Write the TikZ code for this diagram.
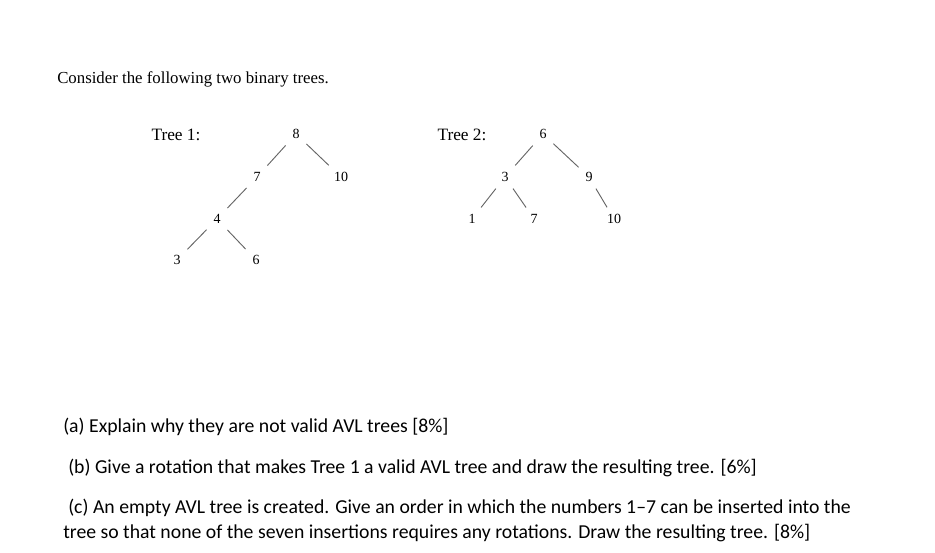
\documentclass[tikz,border=0pt]{standalone}
\usepackage{fontspec}
\setmainfont{Liberation Serif}
\newfontfamily\qfont{Carlito}
\begin{document}
\begin{tikzpicture}[x=0.75pt,y=-0.75pt,
  tn/.style={font=\fontsize{10.5}{12}\selectfont, inner sep=5pt},
  ed/.style={draw=black!60, line width=0.7pt},
  qt/.style={anchor=west, font=\qfont\fontsize{14.8}{17}\selectfont, inner sep=0pt}]
\useasboundingbox (0,0) rectangle (935,553);
\node[anchor=west, inner sep=0pt, font=\fontsize{12.6}{14}\selectfont] (head) at (57,79) {Consider the following two binary trees.};
\node[font=\fontsize{13}{14}\selectfont] (t1) at (176,135) {Tree 1:};
\node[tn] (a8) at (296,134) {8};
\node[tn] (a7) at (257,177) {7};
\node[tn] (a10) at (341,177) {10};
\node[tn] (a4) at (217,219) {4};
\node[tn] (a3) at (177,260) {3};
\node[tn] (a6) at (256,260) {6};
\draw[ed] (a8)--(a7); \draw[ed] (a8)--(a10); \draw[ed] (a7)--(a4);
\draw[ed] (a4)--(a3); \draw[ed] (a4)--(a6);
\node[font=\fontsize{13}{14}\selectfont] (t2) at (462,135) {Tree 2:};
\node[tn] (b6) at (543,134) {6};
\node[tn] (b3) at (505,177) {3};
\node[tn] (b9) at (589,177) {9};
\node[tn] (b1) at (472,219) {1};
\node[tn] (b7) at (534,219) {7};
\node[tn] (b10) at (614,219) {10};
\draw[ed] (b6)--(b3); \draw[ed] (b6)--(b9); \draw[ed] (b3)--(b1);
\draw[ed] (b3)--(b7); \draw[ed] (b9)--(b10);
\node[qt] (qa) at (63,427) {(a) Explain why they are not valid AVL trees [8\%]};
\node[qt] (qb) at (68,468) {(b) Give a rotation that makes Tree 1 a valid AVL tree and draw the resulting tree. [6\%]};
\node[qt] (qc1) at (68,508) {(c) An empty AVL tree is created. Give an order in which the numbers 1–7 can be inserted into the};
\node[qt] (qc2) at (63,533) {tree so that none of the seven insertions requires any rotations. Draw the resulting tree. [8\%]};
\end{tikzpicture}
\end{document}
